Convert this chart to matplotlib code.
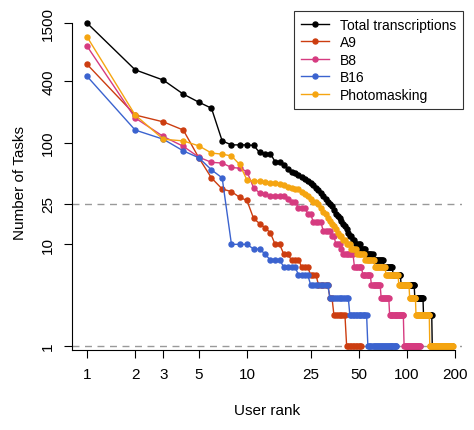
import numpy as np
import matplotlib.pyplot as plt

# run-length data: (tasks, number of consecutive users with that count)
total_runs = [(1500, 1), (520, 1), (412, 1), (300, 1), (250, 1), (218, 1), (104, 1),
              (95, 3), (94, 1), (80, 1), (78, 2), (65, 2), (60, 1), (55, 1), (52, 1),
              (50, 1), (48, 1), (46, 1), (44, 1), (42, 1), (40, 1), (38, 1), (36, 1),
              (34, 1), (32, 1), (30, 1), (28, 1), (26, 1), (25, 1), (24, 1), (22, 1),
              (20, 1), (19, 1), (18, 1), (17, 1), (16, 1), (15, 1), (14, 1), (13, 1),
              (12, 2), (11, 2), (10, 4), (9, 4), (8, 6), (7, 10), (6, 10), (5, 10),
              (4, 20), (3, 15), (2, 17), (1, 48)]
a9_runs = [(590, 1), (187, 1), (160, 1), (133, 1), (71, 1), (45, 1), (35, 1), (33, 1),
           (29, 1), (27, 1), (18, 1), (16, 1), (14.5, 1), (13, 1), (10, 2), (8, 2),
           (7, 3), (6, 3), (5, 3), (4, 5), (3, 2), (2, 7), (1, 11)]
b8_runs = [(890, 1), (175, 1), (115, 1), (92, 1), (72, 1), (64, 1), (63, 1), (57, 1),
           (56, 1), (52, 1), (36, 1), (32, 1), (31, 1), (30, 4), (28, 1), (26, 2),
           (23, 3), (20, 2), (16.5, 4), (13.5, 4), (12, 2), (10, 3), (9, 1), (8, 7),
           (6, 6), (5, 7), (4, 9), (3, 9), (2, 18), (1, 26)]
b16_runs = [(450, 1), (133, 1), (108, 1), (83, 1), (71, 1), (54, 1), (45, 1), (10, 3),
            (9, 2), (8, 1), (7, 3), (6, 4), (5, 4), (4, 8), (3, 11), (2, 13), (1, 30)]
photo_runs = [(1100, 1), (187, 1), (108, 1), (104, 1), (93, 1), (79, 1), (77, 1), (74, 1),
              (61, 1), (43, 1), (42, 2), (41, 1), (40, 2), (39, 1), (38, 1), (37, 1),
              (36, 1), (35, 2), (33, 1), (31, 1), (30, 1), (28, 1), (26, 2), (25, 1),
              (23, 1), (21, 1), (20, 1), (18, 1), (17, 1), (16, 1), (15, 1), (14, 1),
              (13, 1), (12, 2), (11, 2), (10, 3), (9, 4), (8, 6), (7, 8), (6, 11),
              (5, 15), (4, 15), (3, 10), (2, 25), (1, 55)]

series = [("Total transcriptions", total_runs, "black"),
          ("A9", a9_runs, "#cc3d10"),
          ("B8", b8_runs, "#d63b80"),
          ("B16", b16_runs, "#3b63cf"),
          ("Photomasking", photo_runs, "#f5a511")]

plt.rcParams['font.family'] = ['Liberation Sans', 'DejaVu Sans']

fig = plt.figure(figsize=(4.74, 4.31), dpi=100)
ax = fig.add_axes([72 / 474, 1 - 351 / 431, 390 / 474, 336 / 431])

for name, runs, col in series:
    vals = np.repeat([r[0] for r in runs], [r[1] for r in runs])
    ranks = np.arange(1, len(vals) + 1)
    ax.plot(ranks, vals, '-o', color=col, lw=1, ms=3.6, label=name)

for yv in [25, 1]:
    ax.axhline(yv, color='#999999', ls=(0, (5, 4)), lw=1, zorder=0)

ax.set_xscale('log')
ax.set_yscale('log')
ax.set_xlim(0.806, 221)
ax.set_ylim(0.914, 1840)
xt = [1, 2, 3, 5, 10, 25, 50, 100, 200]
yt = [1, 10, 25, 100, 400, 1500]
ax.set_xticks(xt)
ax.set_xticklabels([str(v) for v in xt])
ax.set_yticks(yt)
ax.set_yticklabels([str(v) for v in yt], rotation=90, va='center')
ax.minorticks_off()
ax.spines['top'].set_visible(False)
ax.spines['right'].set_visible(False)
ax.spines['left'].set_bounds(0.914, 1500)
ax.spines['bottom'].set_bounds(0.806, 200)
ax.tick_params(direction='out', length=6, labelsize=11, pad=6)
ax.set_xlabel('User rank', fontsize=11, labelpad=16)
ax.set_ylabel('Number of Tasks', fontsize=11, labelpad=10)
leg = ax.legend(loc='upper right', bbox_to_anchor=(1.02, 1.03), fontsize=10,
                fancybox=False, edgecolor='black', handlelength=2,
                borderpad=0.5, labelspacing=0.25)
leg.get_frame().set_linewidth(0.8)

fig.savefig('out.png', dpi=100)
